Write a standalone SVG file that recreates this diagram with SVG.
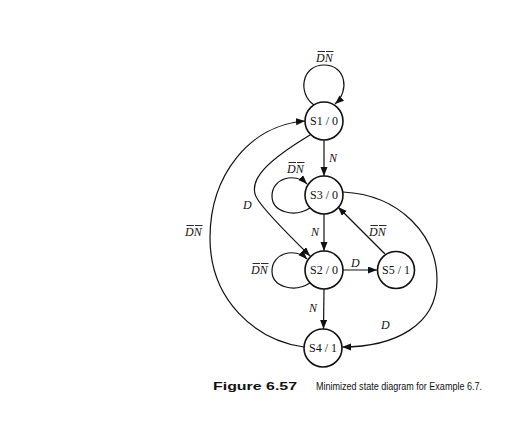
<svg xmlns="http://www.w3.org/2000/svg" width="527" height="423" viewBox="0 0 527 423">
<style>
.st{fill:#fff;stroke:#111;stroke-width:1.6}
.ed{fill:none;stroke:#111;stroke-width:1.2}
.lb{font-family:"Liberation Serif","Times New Roman",serif;font-size:12px;fill:#111}
.it{font-family:"Liberation Serif","Times New Roman",serif;font-size:12px;font-style:italic;fill:#111}
.ov{stroke:#111;stroke-width:0.9}
.cap{font-family:"Liberation Sans",Arial,sans-serif;font-size:11px;fill:#111}
</style>
<defs>
<marker id="ah" markerUnits="userSpaceOnUse" markerWidth="10" markerHeight="8" refX="9" refY="3.5" orient="auto">
<path d="M0,0 L9,3.5 L0,7 z" fill="#111"/>
</marker>
</defs>
<rect width="527" height="423" fill="#fff"/>
<g id="connectors">
<path class="ed" marker-end="url(#ah)" d="M314,105 C297,93 302,65 324,65 C346,65 350,91 335,104"/>
<path class="ed" marker-end="url(#ah)" d="M310,208 C294,218 272,212 272,196 C272,178 295,172 307,184"/>
<path class="ed" marker-end="url(#ah)" d="M310,283 C294,293 272,287 272,271 C272,253 295,247 307,259"/>
<line class="ed" marker-end="url(#ah)" x1="324" y1="140" x2="324" y2="176"/>
<line class="ed" marker-end="url(#ah)" x1="324" y1="214" x2="324" y2="251"/>
<line class="ed" marker-end="url(#ah)" x1="324" y1="289" x2="323.5" y2="329"/>
<line class="ed" marker-end="url(#ah)" x1="343" y1="270" x2="377" y2="270"/>
<line class="ed" marker-end="url(#ah)" x1="385" y1="254" x2="338" y2="207"/>
<path class="ed" marker-end="url(#ah)" d="M310,135 C272,158 244,180 258,200 C268,215 290,236 310,256"/>
<path class="ed" marker-end="url(#ah)" d="M343,192 C400,195 437,235 437,280 C437,325 395,347 342,347"/>
<path class="ed" marker-end="url(#ah)" d="M304,347 C255,340 210,300 210,238 C210,175 250,125 305,121"/>
</g>
<g id="S1"><circle class="st" cx="324" cy="121" r="19"/><text class="lb" x="324" y="125" text-anchor="middle">S1 / 0</text></g>
<g id="S3"><circle class="st" cx="324" cy="195" r="19"/><text class="lb" x="324" y="199" text-anchor="middle">S3 / 0</text></g>
<g id="S2"><circle class="st" cx="324" cy="270" r="19"/><text class="lb" x="324" y="274" text-anchor="middle">S2 / 0</text></g>
<g id="S5"><circle class="st" cx="396" cy="270" r="18.5"/><text class="lb" x="396" y="274" text-anchor="middle">S5 / 1</text></g>
<g id="S4"><circle class="st" cx="323" cy="348" r="19"/><text class="lb" x="323" y="352" text-anchor="middle">S4 / 1</text></g>
<g id="labels">
<g transform="translate(316,62)"><text class="it" x="0" y="0">DN</text><line class="ov" x1="1.5" y1="-10.5" x2="9" y2="-10.5"/><line class="ov" x1="10" y1="-10.5" x2="17.5" y2="-10.5"/></g>
<g transform="translate(287,173)"><text class="it" x="0" y="0">DN</text><line class="ov" x1="1.5" y1="-10.5" x2="9" y2="-10.5"/><line class="ov" x1="10" y1="-10.5" x2="17.5" y2="-10.5"/></g>
<g transform="translate(251,274)"><text class="it" x="0" y="0">DN</text><line class="ov" x1="1.5" y1="-10.5" x2="9" y2="-10.5"/><line class="ov" x1="10" y1="-10.5" x2="17.5" y2="-10.5"/></g>
<g transform="translate(369,236)"><text class="it" x="0" y="0">DN</text><line class="ov" x1="1.5" y1="-10.5" x2="9" y2="-10.5"/><line class="ov" x1="10" y1="-10.5" x2="17.5" y2="-10.5"/></g>
<g transform="translate(185,236)"><text class="it" x="0" y="0">DN</text><line class="ov" x1="1.5" y1="-10.5" x2="9" y2="-10.5"/><line class="ov" x1="10" y1="-10.5" x2="17.5" y2="-10.5"/></g>
<text class="it" x="329" y="162">N</text>
<text class="it" x="311" y="236">N</text>
<text class="it" x="309" y="312">N</text>
<text class="it" x="351" y="267">D</text>
<text class="it" x="381" y="329">D</text>
<text class="it" x="243" y="209">D</text>
</g>
<text class="cap" x="213" y="390" font-weight="bold" font-size="12" textLength="84" lengthAdjust="spacingAndGlyphs">Figure 6.57</text>
<text class="cap" x="316" y="390" textLength="166" lengthAdjust="spacingAndGlyphs">Minimized state diagram for Example 6.7.</text>
</svg>
